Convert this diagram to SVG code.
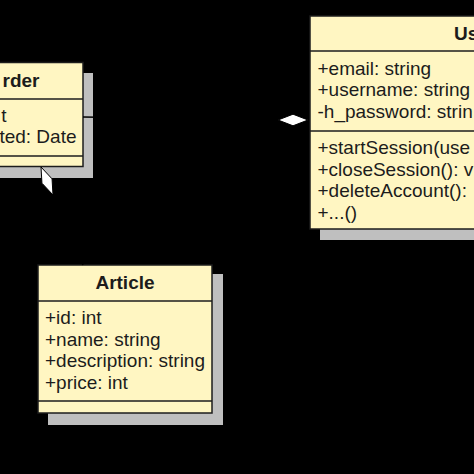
<svg xmlns="http://www.w3.org/2000/svg" width="474" height="474" viewBox="0 0 474 474">
<defs>
<style>
.bg{fill:#000}
.box{fill:#fff6c2;stroke:#1c1c1c;stroke-width:1.5}
.sh{fill:#bfbfbf}
.ln{stroke:#1c1c1c;stroke-width:1.5;fill:none}
.t{font-family:"Liberation Sans",Arial,sans-serif;font-size:19px;fill:#1c1c1c}
.h{font-family:"Liberation Sans",Arial,sans-serif;font-size:19px;font-weight:bold;fill:#1c1c1c}
.conn{stroke:#000;stroke-width:1.5;fill:none}
.dia{fill:#fff;stroke:#000;stroke-width:1}
</style>
</defs>
<rect class="bg" x="0" y="0" width="474" height="474"/>
<g id="order">
<rect class="sh" x="-90" y="73" width="183" height="105"/>
<rect class="box" x="-100" y="62.5" width="183" height="104"/>
<line class="ln" x1="-100" y1="99" x2="83" y2="99"/>
<line class="ln" x1="-100" y1="156" x2="83" y2="156"/>
<text class="h" x="39.5" y="87" text-anchor="end">rder</text>
<text class="t" x="6.5" y="121.5" text-anchor="end">t</text>
<text class="t" x="76.5" y="143.2" text-anchor="end">ted: Date</text>
</g>
<g id="user">
<rect class="sh" x="320" y="26" width="200" height="214"/>
<rect class="box" x="310" y="16" width="200" height="213"/>
<line class="ln" x1="310" y1="51" x2="510" y2="51"/>
<line class="ln" x1="310" y1="131" x2="510" y2="131"/>
<text class="h" x="454" y="40">Us</text>
<text class="t" x="317.5" y="74.5">+email: string</text>
<text class="t" x="317.5" y="96.3">+username: string</text>
<text class="t" x="317.5" y="118">-h_password: strin</text>
<text class="t" x="317.5" y="153.8">+startSession(use</text>
<text class="t" x="317.5" y="175.5">+closeSession(): v</text>
<text class="t" x="317.5" y="197.2">+deleteAccount():</text>
<text class="t" x="317.5" y="218.9">+...()</text>
</g>
<g id="article">
<rect class="sh" x="48" y="274" width="175" height="151"/>
<rect class="box" x="38" y="265" width="174" height="148"/>
<line class="ln" x1="38" y1="301" x2="212" y2="301"/>
<line class="ln" x1="38" y1="401" x2="212" y2="401"/>
<text class="h" x="125" y="289" text-anchor="middle">Article</text>
<text class="t" x="45" y="324">+id: int</text>
<text class="t" x="45" y="345.7">+name: string</text>
<text class="t" x="45" y="367.4">+description: string</text>
<text class="t" x="45" y="389.1">+price: int</text>
</g>
<g id="connectors">
<line class="conn" x1="83" y1="117" x2="278" y2="120"/>
<polygon class="dia" points="308,120 293,125.8 278,120 293,114.2"/>
<line class="conn" x1="53" y1="195" x2="83" y2="265"/>
<polygon class="dia" points="41,167 52.05,178.83 53,195 41.95,183.17"/>
</g>
</svg>
